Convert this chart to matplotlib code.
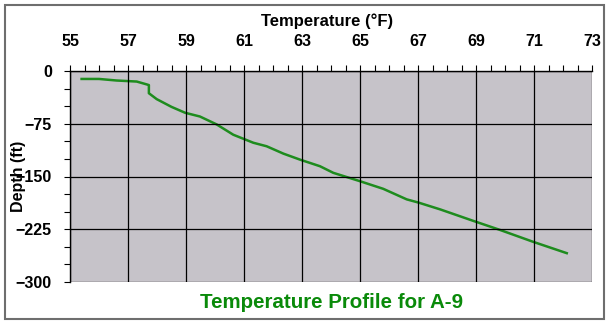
import matplotlib
matplotlib.use("Agg")
import matplotlib.pyplot as plt
from matplotlib.patches import Rectangle

plt.rcParams["font.family"] = ["Liberation Sans", "DejaVu Sans"]

# temperature (F) vs depth (ft)
temp_f = [55.4, 56.0, 56.6, 57.3, 57.64, 57.72, 57.72, 57.99, 58.5, 58.97,
          59.48, 60.06, 60.63, 61.32, 61.78, 62.36, 62.93, 63.62, 64.08,
          65.0, 65.8, 66.61, 67.01, 67.76, 68.9, 69.83, 70.98, 72.13]
depth_ft = [-11.3, -11.3, -13.5, -15.0, -19.0, -20.0, -31.6, -40.0, -51.0,
            -59.4, -64.7, -76.0, -90.6, -102.0, -107.0, -117.5, -126.0,
            -135.4, -144.8, -156.7, -167.5, -182.5, -187.0, -196.7, -213.0,
            -226.0, -243.0, -259.0]

x_ticks = [55, 57, 59, 61, 63, 65, 67, 69, 71, 73]
y_ticks = [0, -75, -150, -225, -300]

fig = plt.figure(figsize=(6.12, 3.26), dpi=100)
fig.patches.append(Rectangle((5 / 612, 1 - 319 / 326), 599 / 612, 314 / 326,
                             transform=fig.transFigure, fill=False,
                             edgecolor="#6e6e6e", linewidth=1.5))

ax = fig.add_axes([70 / 612, 1 - 282 / 326, 522 / 612, 211 / 326])
ax.set_facecolor("#c6c3c9")
ax.plot(temp_f, depth_ft, color="#1e8c1e", linewidth=1.8)

ax.set_xlim(55, 73)
ax.set_ylim(-300, 0)
ax.set_xticks(x_ticks)
ax.set_yticks(y_ticks)
ax.set_xticks([55 + 0.5 * i for i in range(37)], minor=True)
ax.set_yticks([-25 * i for i in range(13)], minor=True)
ax.xaxis.tick_top()
ax.tick_params(axis="both", which="both", direction="out", color="black",
               width=0.8, length=4)
ax.tick_params(axis="x", which="major", pad=12)
ax.tick_params(axis="y", which="major", pad=9)
for lab in ax.get_xticklabels() + ax.get_yticklabels():
    lab.set_fontweight("bold")
    lab.set_fontsize(11.5)

ax.grid(True, which="major", color="black", linewidth=0.9)
ax.set_axisbelow(False)
for side in ("right", "bottom"):
    ax.spines[side].set_visible(False)
for side in ("left", "top"):
    ax.spines[side].set_linewidth(1.0)

fig.text(327 / 612, 1 - 21 / 326, "Temperature (°F)", ha="center",
         va="center", fontsize=12, fontweight="bold")
fig.text(19 / 612, 1 - 176 / 326, "Depth (ft)", ha="center", va="center",
         rotation=90, fontsize=11.5, fontweight="bold")
fig.text(332 / 612, 1 - 302 / 326, "Temperature Profile for A-9",
         ha="center", va="center", fontsize=14.8, fontweight="bold",
         color="#0a8a0a")

fig.savefig("out.png", dpi=100)
